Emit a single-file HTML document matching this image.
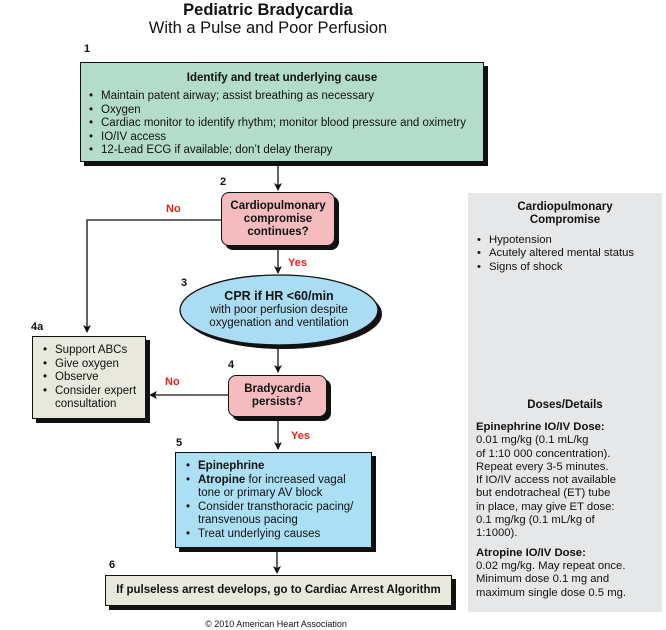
<!DOCTYPE html>
<html><head><style>
body{margin:0;width:666px;height:630px;background:#fff;position:relative;font-family:"Liberation Sans",Arial,sans-serif;color:#111;overflow:hidden}
.a{position:absolute}
.b{font-weight:bold}
.num{position:absolute;font-weight:bold;font-size:11px}
.red{position:absolute;color:#e8201a;font-weight:bold;font-size:11px}
.box{position:absolute;border:1.5px solid #111;box-shadow:4px 4px 0 #111;box-sizing:border-box}
ul{margin:0;padding:0 0 0 18px;list-style:none;white-space:nowrap}
li{position:relative}
li:before{content:"•";position:absolute;left:-12px}
</style></head><body>
<div class="a b" style="left:0;width:536px;top:1px;text-align:center;font-size:16.5px">Pediatric Bradycardia</div>
<div class="a" style="left:0;width:536px;top:19px;text-align:center;font-size:16.5px">With a Pulse and Poor Perfusion</div>

<svg class="a" style="left:0;top:0" width="666" height="630">
<defs><marker id="ar" markerWidth="8" markerHeight="8" refX="7" refY="4" orient="auto" markerUnits="userSpaceOnUse"><path d="M0,0 L8,4 L0,8 L2,4z" fill="#111"/></marker></defs>
<g stroke="#111" stroke-width="1.3" fill="none">
<line x1="278" y1="164" x2="278" y2="190" marker-end="url(#ar)"/>
<polyline points="221,220 87,220 87,332" marker-end="url(#ar)"/>
<line x1="278" y1="248" x2="278" y2="273" marker-end="url(#ar)"/>
<line x1="278" y1="347" x2="278" y2="372" marker-end="url(#ar)"/>
<line x1="228" y1="395" x2="150" y2="395" marker-end="url(#ar)"/>
<line x1="278" y1="418" x2="278" y2="449" marker-end="url(#ar)"/>
<line x1="277" y1="550" x2="277" y2="573" marker-end="url(#ar)"/>
</g>
<ellipse cx="283" cy="314" rx="99" ry="35" fill="#111"/>
<ellipse cx="279" cy="310" rx="99" ry="35" fill="#aadcf3" stroke="#111" stroke-width="1.3"/>
</svg>

<div class="num" style="left:84px;top:43px">1</div>
<div class="box" style="left:80px;top:62px;width:404px;height:100px;background:#b3dccb;font-size:11.5px;line-height:13.4px">
<div class="b" style="text-align:center;margin-top:9px;margin-bottom:5px">Identify and treat underlying cause</div>
<ul style="padding-left:20px"><li>Maintain patent airway; assist breathing as necessary</li><li>Oxygen</li><li>Cardiac monitor to identify rhythm; monitor blood pressure and oximetry</li><li>IO/IV access</li><li>12-Lead ECG if available; don’t delay therapy</li></ul>
</div>

<div class="num" style="left:220px;top:176px">2</div>
<div class="red" style="left:166px;top:203px">No</div>
<div class="box" style="left:221px;top:192px;width:114px;height:54px;background:#f4bcbe;border-radius:8px;text-align:center;font-weight:bold;font-size:11.5px;line-height:13px;padding-top:7px">Cardiopulmonary<br>compromise<br>continues?</div>
<div class="red" style="left:288px;top:257px">Yes</div>

<div class="num" style="left:181px;top:277px">3</div>
<div class="a" style="left:180px;width:198px;top:290px;text-align:center;font-size:11.5px;line-height:13px"><b style="font-size:12.5px">CPR if HR &lt;60/min</b><br>with poor perfusion despite<br>oxygenation and ventilation</div>

<div class="num" style="left:31px;top:321px">4a</div>
<div class="box" style="left:32px;top:336px;width:114px;height:83px;background:#e8e8dc;font-size:11.5px;line-height:13.5px;padding-top:7px"><ul style="padding-left:22px"><li>Support ABCs</li><li>Give oxygen</li><li>Observe</li><li>Consider expert<br>consultation</li></ul></div>

<div class="num" style="left:228px;top:359px">4</div>
<div class="red" style="left:165px;top:376px">No</div>
<div class="box" style="left:228px;top:375px;width:99px;height:42px;background:#f4bcbe;border-radius:8px;text-align:center;font-weight:bold;font-size:11.5px;line-height:13px;padding-top:7px">Bradycardia<br>persists?</div>
<div class="red" style="left:291px;top:430px">Yes</div>

<div class="num" style="left:176px;top:437px">5</div>
<div class="box" style="left:175px;top:452px;width:197px;height:96px;background:#aadff4;font-size:11.5px;line-height:13.5px;padding-top:7px"><ul style="padding-left:22px"><li><b>Epinephrine</b></li><li><b>Atropine</b> for increased vagal<br>tone or primary AV block</li><li>Consider transthoracic pacing/<br>transvenous pacing</li><li>Treat underlying causes</li></ul></div>

<div class="num" style="left:109px;top:559px">6</div>
<div class="box" style="left:105px;top:575px;width:347px;height:31px;background:#e8e8dc;font-weight:bold;font-size:11.5px;text-align:center;line-height:28px">If pulseless arrest develops, go to Cardiac Arrest Algorithm</div>

<div class="a" style="left:0;width:552px;top:619px;text-align:center;font-size:9px">© 2010 American Heart Association</div>

<div class="a" style="left:468px;top:193px;width:194px;height:419px;background:#e6e7e8;font-size:11.3px;line-height:13.3px">
<div class="b" style="text-align:center;margin-top:8px;font-size:11.5px;line-height:13px">Cardiopulmonary<br>Compromise</div>
<ul style="margin-top:7px;padding-left:21px"><li>Hypotension</li><li>Acutely altered mental status</li><li>Signs of shock</li></ul>
<div class="b" style="text-align:center;position:absolute;top:206px;width:100%;font-size:11.5px">Doses/Details</div>
<div style="position:absolute;top:228px;left:8px;width:186px"><b>Epinephrine IO/IV Dose:</b><br>0.01 mg/kg (0.1 mL/kg<br>of 1:10 000 concentration).<br>Repeat every 3-5 minutes.<br>If IO/IV access not available<br>but endotracheal (ET) tube<br>in place, may give ET dose:<br>0.1 mg/kg (0.1 mL/kg of<br>1:1000).<div style="height:6px"></div><b>Atropine IO/IV Dose:</b><br>0.02 mg/kg. May repeat once.<br>Minimum dose 0.1 mg and<br>maximum single dose 0.5 mg.</div>
</div>
</body></html>
